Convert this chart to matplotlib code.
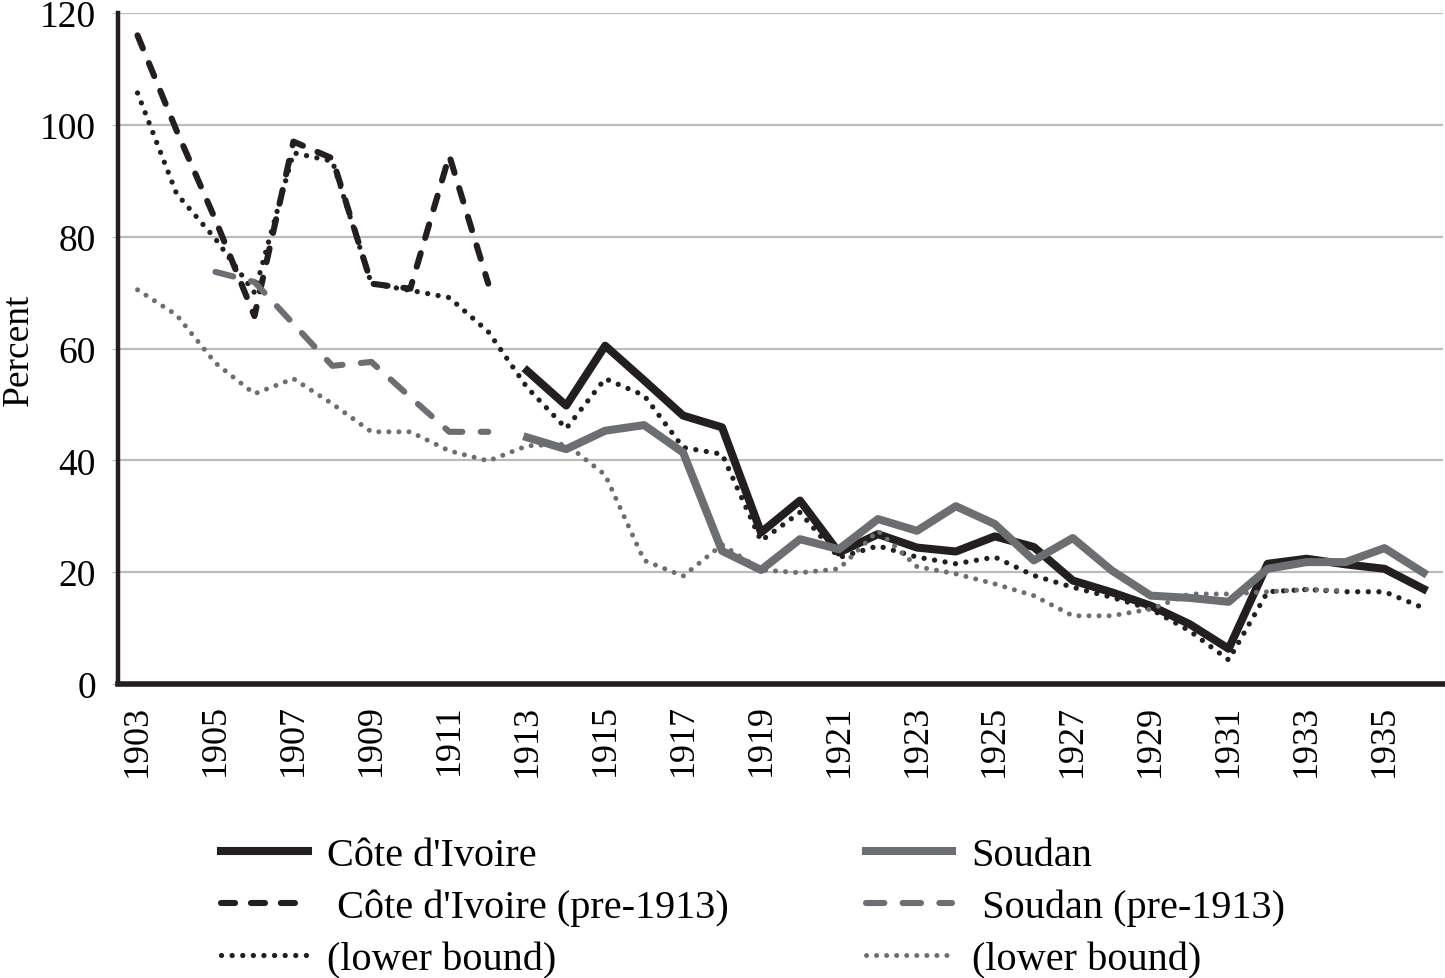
import numpy as np
import matplotlib.pyplot as plt

plt.rcParams['font.family'] = ['Liberation Serif', 'DejaVu Serif']

years = list(range(1903, 1937))

# Cote d'Ivoire
ci_pre = [116, 99, 83, 65.8, 97, 94, 71.6, 70.7, 94.5, 71.6]          # 1903-1912
ci_main = [56.0, 49.8, 60.5, 54.3, 48.0, 45.9, 27.1, 32.8, 23.5, 26.8,
           24.4, 23.7, 26.4, 24.5, 18.5, 16.4, 14.0, 10.7, 6.3, 21.5,
           22.4, 21.4, 20.6, 17.0]                                       # 1913-1936
ci_low = [105.7, 87.7, 79.6, 70.0, 95.0, 93.5, 71.6, 70.4, 69.1, 63.0,
          53.0, 45.7, 54.6, 51.6, 42.3, 41.1, 25.6, 30.7, 22.6, 24.7,
          22.7, 21.5, 22.7, 19.4, 17.3, 15.5, 13.4, 9.5, 4.3, 16.5,
          16.9, 16.5, 16.5, 13.6]                                        # 1903-1936

# Soudan
so_pre = [73.7, 71.9, 64.4, 56.9, 57.6, 51.3, 45.1, 45.1]               # 1905-1912
so_main = [44.1, 42.0, 45.3, 46.3, 41.4, 23.8, 20.4, 25.9, 24.1, 29.5,
           27.4, 31.8, 28.6, 22.1, 26.1, 20.3, 15.8, 15.4, 14.7, 20.6,
           21.8, 21.8, 24.3, 19.9]                                       # 1913-1936
so_low = [70.5, 66.0, 57.4, 51.9, 54.6, 50.1, 45.1, 45.1, 41.7, 39.9,
          42.6, 42.9, 37.4, 22.1, 19.3, 24.9, 20.4, 19.9, 20.6, 27.4,
          21.0, 19.7, 17.9, 15.8, 12.2, 12.2, 13.4, 16.1, 16.1, 16.5,
          16.9, 16.7]                                                    # 1903-1934

x = np.arange(len(years))
BLACK = '#231f20'
GREY = '#6d6e71'

fig = plt.figure(figsize=(14.45, 9.79), dpi=100)
ax = fig.add_axes([0.0817, 0.3003, 0.9169, 0.6854])

dot = (0, (0.01, 2.0))
l1, = ax.plot(x[10:], ci_main, color=BLACK, lw=5.8, label="Côte d'Ivoire")
l2, = ax.plot(x[:10], ci_pre, color=BLACK, lw=4.4, ls=(0, (2.3, 2.6)), dash_capstyle='round',
              label=" Côte d'Ivoire (pre-1913)")
l3, = ax.plot(x, ci_low, color=BLACK, lw=3.8, ls=dot, dash_capstyle='round', label="(lower bound)")
l4, = ax.plot(x[10:], so_main, color=GREY, lw=5.8, label="Soudan")
l5, = ax.plot(x[2:10], so_pre, color=GREY, lw=4.4, ls=(0, (3.0, 3.0)), dash_capstyle='round',
              label=" Soudan (pre-1913)")
l6, = ax.plot(x[:len(so_low)], so_low, color=GREY, lw=3.6, ls=dot, dash_capstyle='round',
              label="(lower bound)")

ax.set_xlim(-0.5, len(years) - 0.5)
ax.set_ylim(0, 120)
ax.set_yticks(range(0, 121, 20))
ax.set_xticks(x[::2])
ax.set_xticklabels([str(y) for y in years[::2]], rotation=90, fontsize=26)
ax.tick_params(axis='y', labelsize=27, length=4, color='#bbbbbb', pad=12)
ax.tick_params(axis='x', length=0, pad=14)
ax.grid(axis='y', color='#bbbbbb', lw=1.6)
ax.set_axisbelow(True)
for s in ['top', 'right']:
    ax.spines[s].set_visible(False)
ax.spines['left'].set_linewidth(3.2)
ax.spines['bottom'].set_linewidth(4)
ax.spines['left'].set_color(BLACK)
ax.spines['bottom'].set_color(BLACK)
ax.set_ylabel('Percent', fontsize=27, labelpad=3)

fig.legend(handles=[l1, l2, l3, l4, l5, l6], ncol=2, frameon=False, fontsize=29,
           loc='upper left', bbox_to_anchor=(0.153, 0.144), handlelength=2.15,
           handletextpad=0.48, columnspacing=3.4, labelspacing=0.36,
           borderaxespad=0, borderpad=0)

fig.savefig('out.png', dpi=100)
